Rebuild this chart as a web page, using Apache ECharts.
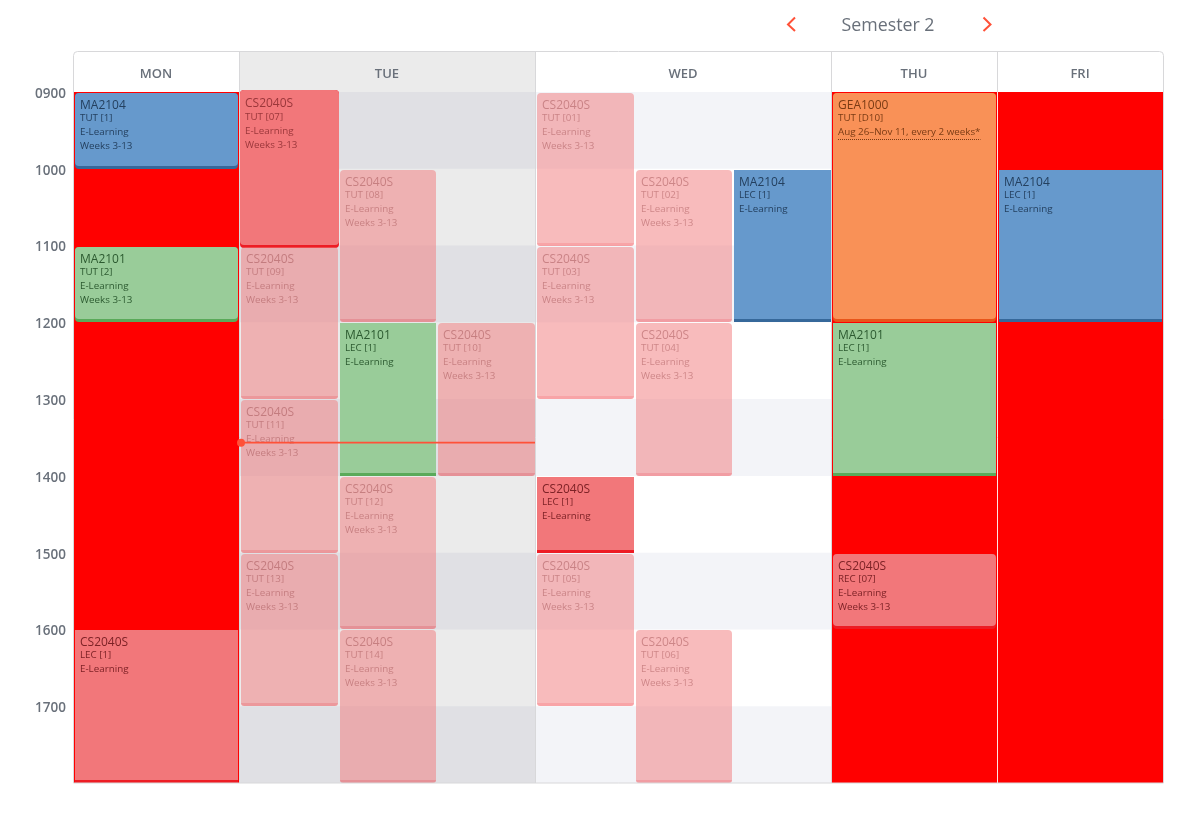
<!DOCTYPE html>
<html>
<head>
<meta charset="utf-8">
<title>Semester 2</title>
<script src="https://cdn.jsdelivr.net/npm/echarts@6/dist/echarts.min.js"></script>
<style>
    html, body { margin: 0; padding: 0; background: #fff; }
    #main { width: 1180px; height: 820px; }
</style>
</head>
<body>
<div id="main"></div>
<script>
    var dayNames = ['MON', 'TUE', 'WED', 'THU', 'FRI'];
    var dayLanes = [1, 3, 3, 1, 1];
    var blockedDays = [0, 3, 4];
    var todayIndex = 1;
    var hourLabels = ['0900', '1000', '1100', '1200', '1300', '1400', '1500', '1600', '1700'];
    var shadedHours = [9, 11, 13, 15, 17];
    var nowHour = 13.567;

    // one entry per lesson, same order in every list
    var lessonDays = [0, 0, 0,
        1, 1, 1, 1, 1, 1, 1, 1, 1,
        2, 2, 2, 2, 2, 2, 2, 2,
        3, 3, 3,
        4];
    var lessonLanes = [0, 0, 0,
        0, 0, 0, 0, 1, 1, 1, 1, 2,
        0, 0, 0, 0, 1, 1, 1, 2,
        0, 0, 0,
        0];
    var lessonStarts = [9, 11, 16,
        9, 11, 13, 15, 10, 12, 14, 16, 12,
        9, 11, 14, 15, 10, 12, 16, 10,
        9, 12, 15,
        10];
    var lessonEnds = [10, 12, 18,
        11, 13, 15, 17, 12, 14, 16, 18, 14,
        11, 13, 15, 17, 12, 14, 18, 12,
        12, 14, 16,
        12];
    var lessonCodes = ['MA2104', 'MA2101', 'CS2040S',
        'CS2040S', 'CS2040S', 'CS2040S', 'CS2040S', 'CS2040S', 'MA2101', 'CS2040S', 'CS2040S', 'CS2040S',
        'CS2040S', 'CS2040S', 'CS2040S', 'CS2040S', 'CS2040S', 'CS2040S', 'CS2040S', 'MA2104',
        'GEA1000', 'MA2101', 'CS2040S',
        'MA2104'];
    var lessonTypes = ['TUT [1]', 'TUT [2]', 'LEC [1]',
        'TUT [07]', 'TUT [09]', 'TUT [11]', 'TUT [13]', 'TUT [08]', 'LEC [1]', 'TUT [12]', 'TUT [14]', 'TUT [10]',
        'TUT [01]', 'TUT [03]', 'LEC [1]', 'TUT [05]', 'TUT [02]', 'TUT [04]', 'TUT [06]', 'LEC [1]',
        'TUT [D10]', 'LEC [1]', 'REC [07]',
        'LEC [1]'];
    var lessonVenues = ['E-Learning', 'E-Learning', 'E-Learning',
        'E-Learning', 'E-Learning', 'E-Learning', 'E-Learning', 'E-Learning', 'E-Learning', 'E-Learning', 'E-Learning', 'E-Learning',
        'E-Learning', 'E-Learning', 'E-Learning', 'E-Learning', 'E-Learning', 'E-Learning', 'E-Learning', 'E-Learning',
        '', 'E-Learning', 'E-Learning',
        'E-Learning'];
    var W = 'Weeks 3-13';
    var lessonWeeks = [W, W, '',
        W, W, W, W, W, '', W, W, W,
        W, W, '', W, W, W, W, '',
        'Aug 26\u2013Nov 11, every 2 weeks*', '', W,
        ''];
    // n = normal, d = dimmed option, h = hovered
    var lessonStates = ['n', 'n', 'n',
        'h', 'd', 'd', 'd', 'd', 'n', 'd', 'd', 'd',
        'd', 'd', 'n', 'd', 'd', 'd', 'd', 'n',
        'n', 'n', 'n',
        'n'];

    var kindColors = {
        MA2104: { fill: '#6699cc', edge: '#36689a', text: '#24405f' },
        MA2101: { fill: '#99cc99', edge: '#5aaa5a', text: '#2c5a30' },
        CS2040S: { fill: '#f2777a', edge: '#ed1c24', text: '#7d2226' },
        GEA1000: { fill: '#f99157', edge: '#e8551a', text: '#7a3b14' }
    };

    var FONT = '"Open Sans", "Noto Sans", sans-serif';
    var GREY = '#69707a';
    var ACCENT = '#ff5138';
    var GRID_LEFT = 74, GRID_RIGHT = 16, HEAD_TOP = 52, HEAD_H = 40, BODY_H = 691;

    function dayWidth(d) {
        return dayLanes[d] > 1 ? 1.783 : 1;
    }
    var dayLefts = [];
    var totalWidth = 0;
    dayNames.forEach(function (n, d) {
        dayLefts.push(totalWidth);
        totalWidth += dayWidth(d);
    });

    var measure = document.createElement('canvas').getContext('2d');
    function textWidth(txt, font) {
        measure.font = font;
        return measure.measureText(txt).width;
    }

    function renderBand(params, api) {
        var p0 = api.coord([0, api.value(0)]);
        var p1 = api.coord([totalWidth, api.value(0) + 1]);
        return { type: 'rect', shape: { x: p0[0], y: p0[1], width: p1[0] - p0[0], height: p1[1] - p0[1] }, style: { fill: '#f3f4f8' } };
    }

    function columnRenderer(fill) {
        return function (params, api) {
            var d = api.value(0);
            var p0 = api.coord([dayLefts[d], 9]);
            var p1 = api.coord([dayLefts[d] + dayWidth(d), 18]);
            return { type: 'rect', shape: { x: p0[0], y: p0[1], width: p1[0] - p0[0] - 0.5, height: p1[1] - p0[1] }, style: { fill: fill } };
        };
    }

    function renderHeader(params, api) {
        var d = api.value(0);
        var p0 = api.coord([dayLefts[d], 1]);
        var p1 = api.coord([dayLefts[d] + dayWidth(d), 0]);
        return {
            type: 'group',
            children: [
                { type: 'rect', shape: { x: p0[0], y: p0[1], width: p1[0] - p0[0], height: p1[1] - p0[1] }, style: { fill: d === todayIndex ? '#ebebeb' : '#fff' } },
                { type: 'text', style: { x: (p0[0] + p1[0]) / 2 - 1, y: (p0[1] + p1[1]) / 2 + 2, text: dayNames[d], fill: GREY, font: '600 13px ' + FONT, textAlign: 'center', textVerticalAlign: 'middle' } }
            ]
        };
    }

    function renderDivider(params, api) {
        var d = api.value(0);
        var p0 = api.coord([dayLefts[d], 9]);
        var p1 = api.coord([dayLefts[d], 18]);
        var x = Math.round(p0[0]) - 0.5;
        var onRed = blockedDays.indexOf(d) >= 0 && blockedDays.indexOf(d - 1) >= 0;
        return {
            type: 'group',
            children: [
                { type: 'line', shape: { x1: x, y1: HEAD_TOP, x2: x, y2: p0[1] }, style: { stroke: '#d8d8da', lineWidth: 1 } },
                { type: 'line', shape: { x1: x, y1: p0[1], x2: x, y2: p1[1] }, style: { stroke: onRed ? '#ffe4e4' : '#d8d8da', lineWidth: 1 } }
            ]
        };
    }

    function renderLesson(params, api) {
        var i = api.value(0);
        var d = lessonDays[i];
        var laneW = dayWidth(d) / dayLanes[d];
        var p0 = api.coord([dayLefts[d] + lessonLanes[i] * laneW, lessonStarts[i]]);
        var p1 = api.coord([dayLefts[d] + (lessonLanes[i] + 1) * laneW, lessonEnds[i]]);
        var state = lessonStates[i];
        var c = kindColors[lessonCodes[i]];
        // snap to whole pixels so the edge rect does not bleed through the fill
        var x = Math.round(p0[0] + 1), y = Math.round(p0[1] + 1);
        var w = Math.round(p1[0] - (dayLanes[d] === 1 ? 2 : 1)) - x;
        var h = Math.round(p1[1]) - y;
        var textTop = y;
        if (state === 'h') {
            x -= 1; y -= 3; w += 2; h += 5; textTop = y + 1.5;
        }
        var dim = state === 'd';
        var txtAlpha = dim ? 0.35 : (state === 'h' ? 0.75 : 1);
        var r = lessonWeeks[i] ? 4 : 0;
        var tx = x + 5;
        var children = [];
        if (dim) {
            children.push({ type: 'rect', shape: { x: x, y: y, width: w, height: h - 3, r: [r, r, 0, 0] }, style: { fill: c.fill, opacity: 0.5 } });
            children.push({ type: 'rect', shape: { x: x, y: y + h - 3, width: w, height: 3, r: [0, 0, r, r] }, style: { fill: c.edge, opacity: 0.4 } });
        } else {
            children.push({ type: 'rect', shape: { x: x, y: y, width: w, height: h, r: r }, style: { fill: c.edge } });
            children.push({ type: 'rect', shape: { x: x, y: y, width: w, height: h - 3, r: r }, style: { fill: c.fill } });
        }
        children.push({ type: 'text', style: { x: tx, y: textTop + 12.5, text: lessonCodes[i], fill: c.text, opacity: txtAlpha, font: '12px ' + FONT, textVerticalAlign: 'middle' } });
        var rows = [lessonTypes[i], lessonVenues[i], lessonWeeks[i]].filter(function (t) { return t; });
        rows.forEach(function (t, k) {
            var ry = textTop + 25.5 + k * 14;
            var font = '9.8px ' + FONT;
            children.push({ type: 'text', style: { x: tx, y: ry, text: t, fill: c.text, opacity: txtAlpha, font: font, textVerticalAlign: 'middle' } });
            if (t.charAt(t.length - 1) === '*') {
                var uy = Math.round(ry + 6) + 0.5;
                children.push({ type: 'line', shape: { x1: tx, y1: uy, x2: tx + textWidth(t, font), y2: uy }, style: { stroke: c.text, lineWidth: 1, lineDash: [1, 1] } });
            }
        });
        return { type: 'group', children: children };
    }

    function renderNow(params, api) {
        var d = api.value(0);
        var p0 = api.coord([dayLefts[d], api.value(1)]);
        var p1 = api.coord([dayLefts[d] + dayWidth(d), api.value(1)]);
        return {
            type: 'group',
            children: [
                { type: 'line', shape: { x1: p0[0], y1: p0[1], x2: p1[0] - 1, y2: p0[1] }, style: { stroke: ACCENT, lineWidth: 1.7 } },
                { type: 'circle', shape: { cx: p0[0] + 1, cy: p0[1], r: 4 }, style: { fill: ACCENT } }
            ]
        };
    }

    function customSeries(name, data, fn, z, xi) {
        return {
            name: name, type: 'custom', xAxisIndex: xi || 0, yAxisIndex: xi || 0,
            data: data, renderItem: fn, silent: true, animation: false, z: z
        };
    }

    var chart = echarts.init(document.getElementById('main'));
    chart.setOption({
        animation: false,
        textStyle: { fontFamily: FONT },
        title: {
            text: 'Semester 2', left: 883, top: 12, textAlign: 'center',
            textStyle: { color: GREY, fontSize: 17.8, fontWeight: 'normal', fontFamily: FONT }
        },
        grid: [
            { left: GRID_LEFT, right: GRID_RIGHT, top: HEAD_TOP + HEAD_H, height: BODY_H },
            { left: GRID_LEFT, right: GRID_RIGHT, top: HEAD_TOP, height: HEAD_H }
        ],
        xAxis: [
            { type: 'value', gridIndex: 0, min: 0, max: totalWidth, show: false },
            { type: 'value', gridIndex: 1, min: 0, max: totalWidth, show: false }
        ],
        yAxis: [
            {
                type: 'value', gridIndex: 0, min: 9, max: 18, interval: 1, inverse: true,
                axisLine: { show: false }, axisTick: { show: false }, splitLine: { show: false },
                axisLabel: {
                    margin: 8,
                    rich: { hour: { color: GREY, fontSize: 13.5, fontWeight: 600, fontFamily: FONT, padding: [4, 0, 0, 0] } },
                    formatter: function (v) {
                        return hourLabels[v - 9] ? '{hour|' + hourLabels[v - 9] + '}' : '';
                    }
                }
            },
            { type: 'value', gridIndex: 1, min: 0, max: 1, show: false }
        ],
        series: [
            customSeries('bands', shadedHours.map(function (h) { return [h]; }), renderBand, 1),
            customSeries('today', [[todayIndex]], columnRenderer('rgba(0,0,0,0.08)'), 2),
            customSeries('blocked', blockedDays.map(function (d) { return [d]; }), columnRenderer('#ff0000'), 3),
            customSeries('header', dayNames.map(function (n, d) { return [d]; }), renderHeader, 3, 1),
            customSeries('dividers', dayNames.slice(1).map(function (n, d) { return [d + 1]; }), renderDivider, 4),
            customSeries('lessons', lessonCodes.map(function (c, i) { return [i]; }), renderLesson, 5),
            customSeries('now', [[todayIndex, nowHour]], renderNow, 6)
        ],
        graphic: [
            { type: 'rect', z: 10, silent: true, shape: { x: GRID_LEFT - 0.5, y: HEAD_TOP - 0.5, width: 1090, height: HEAD_H + BODY_H + 0.5, r: [4, 4, 0, 0] }, style: { fill: 'transparent', stroke: '#d8d8da', lineWidth: 1 } },
            { type: 'polyline', z: 10, silent: true, shape: { points: [[795, 17.5], [788, 24.5], [795, 31]] }, style: { fill: 'none', stroke: ACCENT, lineWidth: 2 } },
            { type: 'polyline', z: 10, silent: true, shape: { points: [[983.5, 17.5], [990.5, 24.5], [983.5, 31]] }, style: { fill: 'none', stroke: ACCENT, lineWidth: 2 } }
        ]
    });
</script>
</body>
</html>
